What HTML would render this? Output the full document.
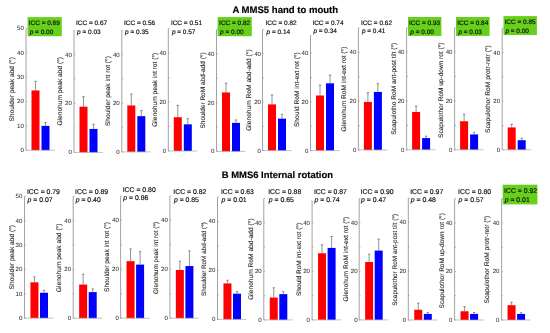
<!DOCTYPE html>
<html><head><meta charset="utf-8"><title>Figure</title>
<style>
html,body{margin:0;padding:0;background:#fff;}
body{width:550px;height:333px;overflow:hidden;}
svg{display:block;}
text{font-family:"Liberation Sans",Arial,sans-serif;fill:#333;text-rendering:geometricPrecision;}
.t{font-size:6.1px;fill:#333;stroke:#333;stroke-width:0.04px;}
.l{fill:#2a2a2a;stroke:#2a2a2a;stroke-width:0.12px;}
.i{fill:#111;stroke:#111;stroke-width:0.17px;}
.h{font-weight:bold;fill:#000;stroke:#000;stroke-width:0.15px;}
</style></head><body>
<svg width="550" height="333" viewBox="0 0 550 333">
<rect width="550" height="333" fill="#fff"/>
<text x="232.4" y="12.7" class="h" font-size="9.55">A MMS5 hand to mouth</text>
<text x="221.8" y="178.2" class="h" font-size="9.45">B MMS6 Internal rotation</text>
<rect x="27.60" y="17.10" width="34.20" height="19.10" fill="#66d01a"/>
<rect x="31.50" y="90.45" width="8" height="59.75" fill="#ff0000"/>
<path d="M35.50 90.45V81.32M34.30 81.32H36.70" stroke="#4a4a4a" stroke-width="0.6" fill="none"/>
<rect x="41.50" y="125.86" width="8" height="24.34" fill="#0000ff"/>
<path d="M45.50 125.86V122.45M44.30 122.45H46.70" stroke="#4a4a4a" stroke-width="0.6" fill="none"/>
<path d="M26.00 28.50V150.50" stroke="#999" stroke-width="0.9" fill="none"/>
<path d="M26.00 150.20H55.00" stroke="#a8a8a8" stroke-width="0.7" fill="none"/>
<path d="M26.30 150.20h1.0" stroke="#666" stroke-width="0.5"/>
<path d="M26.30 125.86h1.0" stroke="#666" stroke-width="0.5"/>
<path d="M26.30 101.52h1.0" stroke="#666" stroke-width="0.5"/>
<path d="M26.30 77.18h1.0" stroke="#666" stroke-width="0.5"/>
<path d="M26.30 52.84h1.0" stroke="#666" stroke-width="0.5"/>
<path d="M26.30 28.50h1.0" stroke="#666" stroke-width="0.5"/>
<text x="23.90" y="152.15" text-anchor="end" class="t">0</text>
<text x="23.90" y="127.81" text-anchor="end" class="t">10</text>
<text x="23.90" y="103.47" text-anchor="end" class="t">20</text>
<text x="23.90" y="79.13" text-anchor="end" class="t">30</text>
<text x="23.90" y="54.79" text-anchor="end" class="t">40</text>
<text x="23.90" y="30.45" text-anchor="end" class="t">50</text>
<text transform="translate(13.70 89.35) rotate(-90)" text-anchor="middle" class="l" font-size="6.63">Shoulder peak abd (°)</text>
<text x="28.70" y="25.20" class="i" font-size="6.48">ICC = 0.89</text>
<text x="29.70" y="33.60" class="i" font-size="6.48"><tspan font-style="italic">p</tspan> = 0.00</text>
<rect x="79.50" y="106.70" width="8" height="45.70" fill="#ff0000"/>
<path d="M83.50 106.70V96.68M82.30 96.68H84.70" stroke="#4a4a4a" stroke-width="0.6" fill="none"/>
<rect x="89.50" y="128.94" width="8" height="23.46" fill="#0000ff"/>
<path d="M93.50 128.94V124.29M92.30 124.29H94.70" stroke="#4a4a4a" stroke-width="0.6" fill="none"/>
<path d="M74.00 30.20V152.70" stroke="#999" stroke-width="0.9" fill="none"/>
<path d="M74.00 152.40H103.00" stroke="#a8a8a8" stroke-width="0.7" fill="none"/>
<path d="M74.30 152.40h1.0" stroke="#666" stroke-width="0.5"/>
<path d="M74.30 127.96h1.0" stroke="#666" stroke-width="0.5"/>
<path d="M74.30 103.52h1.0" stroke="#666" stroke-width="0.5"/>
<path d="M74.30 79.08h1.0" stroke="#666" stroke-width="0.5"/>
<path d="M74.30 54.64h1.0" stroke="#666" stroke-width="0.5"/>
<path d="M74.30 30.20h1.0" stroke="#666" stroke-width="0.5"/>
<text x="71.90" y="154.35" text-anchor="end" class="t">0</text>
<text x="71.90" y="105.47" text-anchor="end" class="t">20</text>
<text x="71.90" y="56.59" text-anchor="end" class="t">40</text>
<text transform="translate(61.70 91.30) rotate(-90)" text-anchor="middle" class="l" font-size="6.63">Glenohum peak abd (°)</text>
<text x="76.00" y="25.20" class="i" font-size="6.48">ICC = 0.67</text>
<text x="77.00" y="33.60" class="i" font-size="6.48"><tspan font-style="italic">p</tspan> = 0.03</text>
<rect x="127.30" y="105.45" width="8" height="46.45" fill="#ff0000"/>
<path d="M131.30 105.45V94.02M130.10 94.02H132.50" stroke="#4a4a4a" stroke-width="0.6" fill="none"/>
<rect x="137.30" y="116.15" width="8" height="35.75" fill="#0000ff"/>
<path d="M141.30 116.15V110.56M140.10 110.56H142.50" stroke="#4a4a4a" stroke-width="0.6" fill="none"/>
<path d="M121.80 30.30V152.20" stroke="#999" stroke-width="0.9" fill="none"/>
<path d="M121.80 151.90H150.80" stroke="#a8a8a8" stroke-width="0.7" fill="none"/>
<path d="M122.10 151.90h1.0" stroke="#666" stroke-width="0.5"/>
<path d="M122.10 127.58h1.0" stroke="#666" stroke-width="0.5"/>
<path d="M122.10 103.26h1.0" stroke="#666" stroke-width="0.5"/>
<path d="M122.10 78.94h1.0" stroke="#666" stroke-width="0.5"/>
<path d="M122.10 54.62h1.0" stroke="#666" stroke-width="0.5"/>
<path d="M122.10 30.30h1.0" stroke="#666" stroke-width="0.5"/>
<text x="119.70" y="153.85" text-anchor="end" class="t">0</text>
<text x="119.70" y="105.21" text-anchor="end" class="t">20</text>
<text x="119.70" y="56.57" text-anchor="end" class="t">40</text>
<text transform="translate(109.50 91.10) rotate(-90)" text-anchor="middle" class="l" font-size="6.63">Shoulder peak int rot (°)</text>
<text x="124.00" y="25.20" class="i" font-size="6.48">ICC = 0.56</text>
<text x="125.00" y="33.60" class="i" font-size="6.48"><tspan font-style="italic">p</tspan> = 0.35</text>
<rect x="173.80" y="117.22" width="8" height="33.78" fill="#ff0000"/>
<path d="M177.80 117.22V105.47M176.60 105.47H179.00" stroke="#4a4a4a" stroke-width="0.6" fill="none"/>
<rect x="183.80" y="124.32" width="8" height="26.68" fill="#0000ff"/>
<path d="M187.80 124.32V118.69M186.60 118.69H189.00" stroke="#4a4a4a" stroke-width="0.6" fill="none"/>
<path d="M168.30 28.60V151.30" stroke="#999" stroke-width="0.9" fill="none"/>
<path d="M168.30 151.00H197.30" stroke="#a8a8a8" stroke-width="0.7" fill="none"/>
<path d="M168.60 151.00h1.0" stroke="#666" stroke-width="0.5"/>
<path d="M168.60 126.52h1.0" stroke="#666" stroke-width="0.5"/>
<path d="M168.60 102.04h1.0" stroke="#666" stroke-width="0.5"/>
<path d="M168.60 77.56h1.0" stroke="#666" stroke-width="0.5"/>
<path d="M168.60 53.08h1.0" stroke="#666" stroke-width="0.5"/>
<path d="M168.60 28.60h1.0" stroke="#666" stroke-width="0.5"/>
<text x="166.20" y="152.95" text-anchor="end" class="t">0</text>
<text x="166.20" y="103.99" text-anchor="end" class="t">20</text>
<text x="166.20" y="55.03" text-anchor="end" class="t">40</text>
<text transform="translate(157.00 89.80) rotate(-90)" text-anchor="middle" class="l" font-size="6.63">Glenohum peak int rot (°)</text>
<text x="170.90" y="25.20" class="i" font-size="6.48">ICC = 0.51</text>
<text x="171.90" y="33.60" class="i" font-size="6.48"><tspan font-style="italic">p</tspan> = 0.57</text>
<rect x="217.60" y="17.10" width="34.20" height="19.10" fill="#66d01a"/>
<rect x="222.00" y="92.40" width="8" height="59.00" fill="#ff0000"/>
<path d="M226.00 92.40V83.14M224.80 83.14H227.20" stroke="#4a4a4a" stroke-width="0.6" fill="none"/>
<rect x="232.00" y="122.88" width="8" height="28.52" fill="#0000ff"/>
<path d="M236.00 122.88V119.95M234.80 119.95H237.20" stroke="#4a4a4a" stroke-width="0.6" fill="none"/>
<path d="M216.50 29.50V151.70" stroke="#999" stroke-width="0.9" fill="none"/>
<path d="M216.50 151.40H245.50" stroke="#a8a8a8" stroke-width="0.7" fill="none"/>
<path d="M216.80 151.40h1.0" stroke="#666" stroke-width="0.5"/>
<path d="M216.80 127.02h1.0" stroke="#666" stroke-width="0.5"/>
<path d="M216.80 102.64h1.0" stroke="#666" stroke-width="0.5"/>
<path d="M216.80 78.26h1.0" stroke="#666" stroke-width="0.5"/>
<path d="M216.80 53.88h1.0" stroke="#666" stroke-width="0.5"/>
<path d="M216.80 29.50h1.0" stroke="#666" stroke-width="0.5"/>
<text x="214.40" y="153.35" text-anchor="end" class="t">0</text>
<text x="214.40" y="104.59" text-anchor="end" class="t">20</text>
<text x="214.40" y="55.83" text-anchor="end" class="t">40</text>
<text transform="translate(205.00 90.45) rotate(-90)" text-anchor="middle" class="l" font-size="6.52">Shoulder RoM abd-add (°)</text>
<text x="219.10" y="25.20" class="i" font-size="6.48">ICC = 0.82</text>
<text x="220.10" y="33.60" class="i" font-size="6.48"><tspan font-style="italic">p</tspan> = 0.00</text>
<rect x="268.00" y="104.38" width="8" height="46.22" fill="#ff0000"/>
<path d="M272.00 104.38V94.94M270.80 94.94H273.20" stroke="#4a4a4a" stroke-width="0.6" fill="none"/>
<rect x="278.00" y="118.66" width="8" height="31.94" fill="#0000ff"/>
<path d="M282.00 118.66V114.30M280.80 114.30H283.20" stroke="#4a4a4a" stroke-width="0.6" fill="none"/>
<path d="M262.50 29.60V150.90" stroke="#999" stroke-width="0.9" fill="none"/>
<path d="M262.50 150.60H291.50" stroke="#a8a8a8" stroke-width="0.7" fill="none"/>
<path d="M262.80 150.60h1.0" stroke="#666" stroke-width="0.5"/>
<path d="M262.80 126.40h1.0" stroke="#666" stroke-width="0.5"/>
<path d="M262.80 102.20h1.0" stroke="#666" stroke-width="0.5"/>
<path d="M262.80 78.00h1.0" stroke="#666" stroke-width="0.5"/>
<path d="M262.80 53.80h1.0" stroke="#666" stroke-width="0.5"/>
<path d="M262.80 29.60h1.0" stroke="#666" stroke-width="0.5"/>
<text x="261.00" y="152.55" text-anchor="end" class="t">0</text>
<text x="261.00" y="104.15" text-anchor="end" class="t">20</text>
<text x="261.00" y="55.75" text-anchor="end" class="t">40</text>
<text transform="translate(250.90 90.10) rotate(-90)" text-anchor="middle" class="l" font-size="6.63">Glenohum RoM abd-add (°)</text>
<text x="265.50" y="25.20" class="i" font-size="6.48">ICC = 0.82</text>
<text x="266.50" y="33.60" class="i" font-size="6.48"><tspan font-style="italic">p</tspan> = 0.14</text>
<rect x="316.00" y="95.50" width="8" height="55.10" fill="#ff0000"/>
<path d="M320.00 95.50V85.02M318.80 85.02H321.20" stroke="#4a4a4a" stroke-width="0.6" fill="none"/>
<rect x="326.00" y="83.31" width="8" height="67.29" fill="#0000ff"/>
<path d="M330.00 83.31V75.02M328.80 75.02H331.20" stroke="#4a4a4a" stroke-width="0.6" fill="none"/>
<path d="M310.50 35.00V150.90" stroke="#999" stroke-width="0.9" fill="none"/>
<path d="M310.50 150.60H339.50" stroke="#a8a8a8" stroke-width="0.7" fill="none"/>
<path d="M310.80 150.60h1.0" stroke="#666" stroke-width="0.5"/>
<path d="M310.80 126.22h1.0" stroke="#666" stroke-width="0.5"/>
<path d="M310.80 101.84h1.0" stroke="#666" stroke-width="0.5"/>
<path d="M310.80 77.46h1.0" stroke="#666" stroke-width="0.5"/>
<path d="M310.80 53.08h1.0" stroke="#666" stroke-width="0.5"/>
<text x="308.40" y="152.55" text-anchor="end" class="t">0</text>
<text x="308.40" y="103.79" text-anchor="end" class="t">20</text>
<text x="308.40" y="55.03" text-anchor="end" class="t">40</text>
<text transform="translate(298.70 89.65) rotate(-90)" text-anchor="middle" class="l" font-size="6.63">Should RoM int-ext rot (°)</text>
<text x="312.40" y="24.80" class="i" font-size="6.48">ICC = 0.74</text>
<text x="313.40" y="33.20" class="i" font-size="6.48"><tspan font-style="italic">p</tspan> = 0.34</text>
<rect x="363.90" y="101.93" width="8" height="48.07" fill="#ff0000"/>
<path d="M367.90 101.93V92.66M366.70 92.66H369.10" stroke="#4a4a4a" stroke-width="0.6" fill="none"/>
<rect x="373.90" y="91.93" width="8" height="58.07" fill="#0000ff"/>
<path d="M377.90 91.93V83.63M376.70 83.63H379.10" stroke="#4a4a4a" stroke-width="0.6" fill="none"/>
<path d="M358.40 28.00V150.30" stroke="#999" stroke-width="0.9" fill="none"/>
<path d="M358.40 150.00H387.40" stroke="#a8a8a8" stroke-width="0.7" fill="none"/>
<path d="M358.70 150.00h1.0" stroke="#666" stroke-width="0.5"/>
<path d="M358.70 125.60h1.0" stroke="#666" stroke-width="0.5"/>
<path d="M358.70 101.20h1.0" stroke="#666" stroke-width="0.5"/>
<path d="M358.70 76.80h1.0" stroke="#666" stroke-width="0.5"/>
<path d="M358.70 52.40h1.0" stroke="#666" stroke-width="0.5"/>
<path d="M358.70 28.00h1.0" stroke="#666" stroke-width="0.5"/>
<text x="356.30" y="151.95" text-anchor="end" class="t">0</text>
<text x="356.30" y="103.15" text-anchor="end" class="t">20</text>
<text x="356.30" y="54.35" text-anchor="end" class="t">40</text>
<text transform="translate(346.10 89.00) rotate(-90)" text-anchor="middle" class="l" font-size="6.63">Glenohum RoM int-ext rot (°)</text>
<text x="360.90" y="24.80" class="i" font-size="6.48">ICC = 0.62</text>
<text x="361.90" y="33.20" class="i" font-size="6.48"><tspan font-style="italic">p</tspan> = 0.41</text>
<rect x="408.00" y="17.00" width="33.40" height="18.90" fill="#66d01a"/>
<rect x="412.10" y="111.95" width="8" height="37.85" fill="#ff0000"/>
<path d="M416.10 111.95V106.09M414.90 106.09H417.30" stroke="#4a4a4a" stroke-width="0.6" fill="none"/>
<rect x="422.10" y="138.08" width="8" height="11.72" fill="#0000ff"/>
<path d="M426.10 138.08V136.12M424.90 136.12H427.30" stroke="#4a4a4a" stroke-width="0.6" fill="none"/>
<path d="M406.60 27.70V150.10" stroke="#999" stroke-width="0.9" fill="none"/>
<path d="M406.60 149.80H435.60" stroke="#a8a8a8" stroke-width="0.7" fill="none"/>
<path d="M406.90 149.80h1.0" stroke="#666" stroke-width="0.5"/>
<path d="M406.90 125.38h1.0" stroke="#666" stroke-width="0.5"/>
<path d="M406.90 100.96h1.0" stroke="#666" stroke-width="0.5"/>
<path d="M406.90 76.54h1.0" stroke="#666" stroke-width="0.5"/>
<path d="M406.90 52.12h1.0" stroke="#666" stroke-width="0.5"/>
<path d="M406.90 27.70h1.0" stroke="#666" stroke-width="0.5"/>
<text x="404.50" y="151.75" text-anchor="end" class="t">0</text>
<text x="404.50" y="102.91" text-anchor="end" class="t">20</text>
<text x="404.50" y="54.07" text-anchor="end" class="t">40</text>
<text transform="translate(395.60 88.75) rotate(-90)" text-anchor="middle" class="l" font-size="6.63">Scapulotho RoM ant-post tilt (°)</text>
<text x="409.00" y="25.20" class="i" font-size="6.48">ICC = 0.93</text>
<text x="410.30" y="33.60" class="i" font-size="6.48"><tspan font-style="italic">p</tspan> = 0.00</text>
<rect x="456.00" y="17.00" width="33.60" height="18.90" fill="#66d01a"/>
<rect x="460.10" y="121.23" width="8" height="28.57" fill="#ff0000"/>
<path d="M464.10 121.23V114.15M462.90 114.15H465.30" stroke="#4a4a4a" stroke-width="0.6" fill="none"/>
<rect x="470.10" y="134.42" width="8" height="15.38" fill="#0000ff"/>
<path d="M474.10 134.42V132.22M472.90 132.22H475.30" stroke="#4a4a4a" stroke-width="0.6" fill="none"/>
<path d="M454.60 27.70V150.10" stroke="#999" stroke-width="0.9" fill="none"/>
<path d="M454.60 149.80H483.60" stroke="#a8a8a8" stroke-width="0.7" fill="none"/>
<path d="M454.90 149.80h1.0" stroke="#666" stroke-width="0.5"/>
<path d="M454.90 125.38h1.0" stroke="#666" stroke-width="0.5"/>
<path d="M454.90 100.96h1.0" stroke="#666" stroke-width="0.5"/>
<path d="M454.90 76.54h1.0" stroke="#666" stroke-width="0.5"/>
<path d="M454.90 52.12h1.0" stroke="#666" stroke-width="0.5"/>
<path d="M454.90 27.70h1.0" stroke="#666" stroke-width="0.5"/>
<text x="452.50" y="151.75" text-anchor="end" class="t">0</text>
<text x="452.50" y="102.91" text-anchor="end" class="t">20</text>
<text x="452.50" y="54.07" text-anchor="end" class="t">40</text>
<text transform="translate(442.80 90.25) rotate(-90)" text-anchor="middle" class="l" font-size="6.53">Scapulothor RoM up-down rot (°)</text>
<text x="457.20" y="25.20" class="i" font-size="6.48">ICC = 0.84</text>
<text x="458.40" y="33.60" class="i" font-size="6.48"><tspan font-style="italic">p</tspan> = 0.03</text>
<rect x="503.50" y="16.10" width="33.40" height="18.90" fill="#66d01a"/>
<rect x="507.70" y="127.44" width="8" height="22.36" fill="#ff0000"/>
<path d="M511.70 127.44V124.29M510.50 124.29H512.90" stroke="#4a4a4a" stroke-width="0.6" fill="none"/>
<rect x="517.70" y="140.20" width="8" height="9.60" fill="#0000ff"/>
<path d="M521.70 140.20V138.14M520.50 138.14H522.90" stroke="#4a4a4a" stroke-width="0.6" fill="none"/>
<path d="M502.20 28.30V150.10" stroke="#999" stroke-width="0.9" fill="none"/>
<path d="M502.20 149.80H531.20" stroke="#a8a8a8" stroke-width="0.7" fill="none"/>
<path d="M502.50 149.80h1.0" stroke="#666" stroke-width="0.5"/>
<path d="M502.50 125.50h1.0" stroke="#666" stroke-width="0.5"/>
<path d="M502.50 101.20h1.0" stroke="#666" stroke-width="0.5"/>
<path d="M502.50 76.90h1.0" stroke="#666" stroke-width="0.5"/>
<path d="M502.50 52.60h1.0" stroke="#666" stroke-width="0.5"/>
<path d="M502.50 28.30h1.0" stroke="#666" stroke-width="0.5"/>
<text x="500.10" y="151.75" text-anchor="end" class="t">0</text>
<text x="500.10" y="103.15" text-anchor="end" class="t">20</text>
<text x="500.10" y="54.55" text-anchor="end" class="t">40</text>
<text transform="translate(490.40 89.05) rotate(-90)" text-anchor="middle" class="l" font-size="6.63">Scapulothor RoM protr-retr (°)</text>
<text x="504.50" y="24.40" class="i" font-size="6.48">ICC = 0.85</text>
<text x="505.40" y="32.80" class="i" font-size="6.48"><tspan font-style="italic">p</tspan> = 0.00</text>
<rect x="30.45" y="282.29" width="8" height="35.81" fill="#ff0000"/>
<path d="M34.45 282.29V276.93M33.25 276.93H35.65" stroke="#4a4a4a" stroke-width="0.6" fill="none"/>
<rect x="40.00" y="292.77" width="8" height="25.33" fill="#0000ff"/>
<path d="M44.00 292.77V290.33M42.80 290.33H45.20" stroke="#4a4a4a" stroke-width="0.6" fill="none"/>
<path d="M24.50 196.30V318.40" stroke="#999" stroke-width="0.9" fill="none"/>
<path d="M24.50 318.10H53.50" stroke="#a8a8a8" stroke-width="0.7" fill="none"/>
<path d="M24.80 318.10h1.0" stroke="#666" stroke-width="0.5"/>
<path d="M24.80 293.74h1.0" stroke="#666" stroke-width="0.5"/>
<path d="M24.80 269.38h1.0" stroke="#666" stroke-width="0.5"/>
<path d="M24.80 245.02h1.0" stroke="#666" stroke-width="0.5"/>
<path d="M24.80 220.66h1.0" stroke="#666" stroke-width="0.5"/>
<path d="M24.80 196.30h1.0" stroke="#666" stroke-width="0.5"/>
<text x="22.40" y="320.05" text-anchor="end" class="t">0</text>
<text x="22.40" y="295.69" text-anchor="end" class="t">10</text>
<text x="22.40" y="271.33" text-anchor="end" class="t">20</text>
<text x="22.40" y="246.97" text-anchor="end" class="t">30</text>
<text x="22.40" y="222.61" text-anchor="end" class="t">40</text>
<text x="22.40" y="198.25" text-anchor="end" class="t">50</text>
<text transform="translate(14.10 257.20) rotate(-90)" text-anchor="middle" class="l" font-size="6.63">Shoulder peak abd (°)</text>
<text x="26.90" y="193.50" class="i" font-size="6.88">ICC = 0.79</text>
<text x="27.50" y="201.90" class="i" font-size="6.88"><tspan font-style="italic">p</tspan> = 0.07</text>
<rect x="79.15" y="284.56" width="8" height="33.64" fill="#ff0000"/>
<path d="M83.15 284.56V274.32M81.95 274.32H84.35" stroke="#4a4a4a" stroke-width="0.6" fill="none"/>
<rect x="88.70" y="292.11" width="8" height="26.09" fill="#0000ff"/>
<path d="M92.70 292.11V288.94M91.50 288.94H93.90" stroke="#4a4a4a" stroke-width="0.6" fill="none"/>
<path d="M73.20 196.30V318.50" stroke="#999" stroke-width="0.9" fill="none"/>
<path d="M73.20 318.20H102.20" stroke="#a8a8a8" stroke-width="0.7" fill="none"/>
<path d="M73.50 318.20h1.0" stroke="#666" stroke-width="0.5"/>
<path d="M73.50 293.82h1.0" stroke="#666" stroke-width="0.5"/>
<path d="M73.50 269.44h1.0" stroke="#666" stroke-width="0.5"/>
<path d="M73.50 245.06h1.0" stroke="#666" stroke-width="0.5"/>
<path d="M73.50 220.68h1.0" stroke="#666" stroke-width="0.5"/>
<path d="M73.50 196.30h1.0" stroke="#666" stroke-width="0.5"/>
<text x="71.10" y="320.15" text-anchor="end" class="t">0</text>
<text x="71.10" y="271.39" text-anchor="end" class="t">20</text>
<text x="71.10" y="222.63" text-anchor="end" class="t">40</text>
<text transform="translate(61.40 257.85) rotate(-90)" text-anchor="middle" class="l" font-size="6.63">Glenohum peak abd (°)</text>
<text x="75.10" y="193.50" class="i" font-size="6.88">ICC = 0.89</text>
<text x="75.70" y="201.90" class="i" font-size="6.88"><tspan font-style="italic">p</tspan> = 0.40</text>
<rect x="126.55" y="261.16" width="8" height="57.04" fill="#ff0000"/>
<path d="M130.55 261.16V248.92M129.35 248.92H131.75" stroke="#4a4a4a" stroke-width="0.6" fill="none"/>
<rect x="136.10" y="264.59" width="8" height="53.61" fill="#0000ff"/>
<path d="M140.10 264.59V251.61M138.90 251.61H141.30" stroke="#4a4a4a" stroke-width="0.6" fill="none"/>
<path d="M120.60 195.80V318.50" stroke="#999" stroke-width="0.9" fill="none"/>
<path d="M120.60 318.20H149.60" stroke="#a8a8a8" stroke-width="0.7" fill="none"/>
<path d="M120.90 318.20h1.0" stroke="#666" stroke-width="0.5"/>
<path d="M120.90 293.72h1.0" stroke="#666" stroke-width="0.5"/>
<path d="M120.90 269.24h1.0" stroke="#666" stroke-width="0.5"/>
<path d="M120.90 244.76h1.0" stroke="#666" stroke-width="0.5"/>
<path d="M120.90 220.28h1.0" stroke="#666" stroke-width="0.5"/>
<path d="M120.90 195.80h1.0" stroke="#666" stroke-width="0.5"/>
<text x="118.90" y="320.15" text-anchor="end" class="t">0</text>
<text x="118.90" y="271.19" text-anchor="end" class="t">20</text>
<text x="118.90" y="222.23" text-anchor="end" class="t">40</text>
<text transform="translate(108.90 257.00) rotate(-90)" text-anchor="middle" class="l" font-size="6.63">Shoulder peak int rot (°)</text>
<text x="122.70" y="191.50" class="i" font-size="6.88">ICC = 0.80</text>
<text x="123.30" y="199.90" class="i" font-size="6.88"><tspan font-style="italic">p</tspan> = 0.86</text>
<rect x="175.85" y="269.97" width="8" height="48.23" fill="#ff0000"/>
<path d="M179.85 269.97V261.16M178.65 261.16H181.05" stroke="#4a4a4a" stroke-width="0.6" fill="none"/>
<rect x="185.40" y="266.06" width="8" height="52.14" fill="#0000ff"/>
<path d="M189.40 266.06V250.88M188.20 250.88H190.60" stroke="#4a4a4a" stroke-width="0.6" fill="none"/>
<path d="M169.90 195.80V318.50" stroke="#999" stroke-width="0.9" fill="none"/>
<path d="M169.90 318.20H198.90" stroke="#a8a8a8" stroke-width="0.7" fill="none"/>
<path d="M170.20 318.20h1.0" stroke="#666" stroke-width="0.5"/>
<path d="M170.20 293.72h1.0" stroke="#666" stroke-width="0.5"/>
<path d="M170.20 269.24h1.0" stroke="#666" stroke-width="0.5"/>
<path d="M170.20 244.76h1.0" stroke="#666" stroke-width="0.5"/>
<path d="M170.20 220.28h1.0" stroke="#666" stroke-width="0.5"/>
<path d="M170.20 195.80h1.0" stroke="#666" stroke-width="0.5"/>
<text x="167.80" y="320.15" text-anchor="end" class="t">0</text>
<text x="167.80" y="271.19" text-anchor="end" class="t">20</text>
<text x="167.80" y="222.23" text-anchor="end" class="t">40</text>
<text transform="translate(157.60 257.90) rotate(-90)" text-anchor="middle" class="l" font-size="6.46">Glenohum peak int rot (°)</text>
<text x="173.30" y="193.50" class="i" font-size="6.88">ICC = 0.82</text>
<text x="173.90" y="201.90" class="i" font-size="6.88"><tspan font-style="italic">p</tspan> = 0.85</text>
<rect x="223.45" y="283.41" width="8" height="35.99" fill="#ff0000"/>
<path d="M227.45 283.41V280.23M226.25 280.23H228.65" stroke="#4a4a4a" stroke-width="0.6" fill="none"/>
<rect x="233.00" y="293.70" width="8" height="25.70" fill="#0000ff"/>
<path d="M237.00 293.70V291.74M235.80 291.74H238.20" stroke="#4a4a4a" stroke-width="0.6" fill="none"/>
<path d="M217.50 197.00V319.70" stroke="#999" stroke-width="0.9" fill="none"/>
<path d="M217.50 319.40H246.50" stroke="#a8a8a8" stroke-width="0.7" fill="none"/>
<path d="M217.80 319.40h1.0" stroke="#666" stroke-width="0.5"/>
<path d="M217.80 294.92h1.0" stroke="#666" stroke-width="0.5"/>
<path d="M217.80 270.44h1.0" stroke="#666" stroke-width="0.5"/>
<path d="M217.80 245.96h1.0" stroke="#666" stroke-width="0.5"/>
<path d="M217.80 221.48h1.0" stroke="#666" stroke-width="0.5"/>
<path d="M217.80 197.00h1.0" stroke="#666" stroke-width="0.5"/>
<text x="215.40" y="321.35" text-anchor="end" class="t">0</text>
<text x="215.40" y="272.39" text-anchor="end" class="t">20</text>
<text x="215.40" y="223.43" text-anchor="end" class="t">40</text>
<text transform="translate(206.40 259.10) rotate(-90)" text-anchor="middle" class="l" font-size="6.33">Shoulder RoM abd-add (°)</text>
<text x="220.90" y="193.50" class="i" font-size="6.88">ICC = 0.63</text>
<text x="221.50" y="201.90" class="i" font-size="6.88"><tspan font-style="italic">p</tspan> = 0.01</text>
<rect x="269.75" y="297.53" width="8" height="22.37" fill="#ff0000"/>
<path d="M273.75 297.53V287.80M272.55 287.80H274.95" stroke="#4a4a4a" stroke-width="0.6" fill="none"/>
<rect x="279.30" y="294.12" width="8" height="25.78" fill="#0000ff"/>
<path d="M283.30 294.12V291.69M282.10 291.69H284.50" stroke="#4a4a4a" stroke-width="0.6" fill="none"/>
<path d="M263.80 198.30V320.20" stroke="#999" stroke-width="0.9" fill="none"/>
<path d="M263.80 319.90H292.80" stroke="#a8a8a8" stroke-width="0.7" fill="none"/>
<path d="M264.10 319.90h1.0" stroke="#666" stroke-width="0.5"/>
<path d="M264.10 295.58h1.0" stroke="#666" stroke-width="0.5"/>
<path d="M264.10 271.26h1.0" stroke="#666" stroke-width="0.5"/>
<path d="M264.10 246.94h1.0" stroke="#666" stroke-width="0.5"/>
<path d="M264.10 222.62h1.0" stroke="#666" stroke-width="0.5"/>
<path d="M264.10 198.30h1.0" stroke="#666" stroke-width="0.5"/>
<text x="261.70" y="321.85" text-anchor="end" class="t">0</text>
<text x="261.70" y="273.21" text-anchor="end" class="t">20</text>
<text x="261.70" y="224.57" text-anchor="end" class="t">40</text>
<text transform="translate(253.10 259.10) rotate(-90)" text-anchor="middle" class="l" font-size="6.63">Glenohum RoM abd-add (°)</text>
<text x="268.20" y="193.50" class="i" font-size="6.88">ICC = 0.88</text>
<text x="268.80" y="201.90" class="i" font-size="6.88"><tspan font-style="italic">p</tspan> = 0.65</text>
<rect x="318.05" y="253.26" width="8" height="66.64" fill="#ff0000"/>
<path d="M322.05 253.26V244.75M320.85 244.75H323.25" stroke="#4a4a4a" stroke-width="0.6" fill="none"/>
<rect x="327.60" y="247.91" width="8" height="71.99" fill="#0000ff"/>
<path d="M331.60 247.91V236.48M330.40 236.48H332.80" stroke="#4a4a4a" stroke-width="0.6" fill="none"/>
<path d="M312.10 200.50V320.20" stroke="#999" stroke-width="0.9" fill="none"/>
<path d="M312.10 319.90H341.10" stroke="#a8a8a8" stroke-width="0.7" fill="none"/>
<path d="M312.40 319.90h1.0" stroke="#666" stroke-width="0.5"/>
<path d="M312.40 295.58h1.0" stroke="#666" stroke-width="0.5"/>
<path d="M312.40 271.26h1.0" stroke="#666" stroke-width="0.5"/>
<path d="M312.40 246.94h1.0" stroke="#666" stroke-width="0.5"/>
<path d="M312.40 222.62h1.0" stroke="#666" stroke-width="0.5"/>
<text x="310.00" y="321.85" text-anchor="end" class="t">0</text>
<text x="310.00" y="273.21" text-anchor="end" class="t">20</text>
<text x="310.00" y="224.57" text-anchor="end" class="t">40</text>
<text transform="translate(300.90 259.45) rotate(-90)" text-anchor="middle" class="l" font-size="6.47">Should RoM int-ext rot (°)</text>
<text x="313.90" y="193.50" class="i" font-size="6.88">ICC = 0.87</text>
<text x="314.50" y="201.90" class="i" font-size="6.88"><tspan font-style="italic">p</tspan> = 0.74</text>
<rect x="365.15" y="262.02" width="8" height="57.88" fill="#ff0000"/>
<path d="M369.15 262.02V254.24M367.95 254.24H370.35" stroke="#4a4a4a" stroke-width="0.6" fill="none"/>
<rect x="374.70" y="250.59" width="8" height="69.31" fill="#0000ff"/>
<path d="M378.70 250.59V239.16M377.50 239.16H379.90" stroke="#4a4a4a" stroke-width="0.6" fill="none"/>
<path d="M359.20 198.30V320.20" stroke="#999" stroke-width="0.9" fill="none"/>
<path d="M359.20 319.90H388.20" stroke="#a8a8a8" stroke-width="0.7" fill="none"/>
<path d="M359.50 319.90h1.0" stroke="#666" stroke-width="0.5"/>
<path d="M359.50 295.58h1.0" stroke="#666" stroke-width="0.5"/>
<path d="M359.50 271.26h1.0" stroke="#666" stroke-width="0.5"/>
<path d="M359.50 246.94h1.0" stroke="#666" stroke-width="0.5"/>
<path d="M359.50 222.62h1.0" stroke="#666" stroke-width="0.5"/>
<path d="M359.50 198.30h1.0" stroke="#666" stroke-width="0.5"/>
<text x="357.60" y="321.85" text-anchor="end" class="t">0</text>
<text x="357.60" y="273.21" text-anchor="end" class="t">20</text>
<text x="357.60" y="224.57" text-anchor="end" class="t">40</text>
<text transform="translate(347.90 259.10) rotate(-90)" text-anchor="middle" class="l" font-size="6.63">Glenohum RoM int-ext rot (°)</text>
<text x="360.50" y="193.50" class="i" font-size="6.88">ICC = 0.90</text>
<text x="361.10" y="201.90" class="i" font-size="6.88"><tspan font-style="italic">p</tspan> = 0.47</text>
<rect x="414.25" y="309.75" width="8" height="10.25" fill="#ff0000"/>
<path d="M418.25 309.75V303.16M417.05 303.16H419.45" stroke="#4a4a4a" stroke-width="0.6" fill="none"/>
<rect x="423.80" y="313.90" width="8" height="6.10" fill="#0000ff"/>
<path d="M427.80 313.90V312.44M426.60 312.44H429.00" stroke="#4a4a4a" stroke-width="0.6" fill="none"/>
<path d="M408.30 198.00V320.30" stroke="#999" stroke-width="0.9" fill="none"/>
<path d="M408.30 320.00H437.30" stroke="#a8a8a8" stroke-width="0.7" fill="none"/>
<path d="M408.60 320.00h1.0" stroke="#666" stroke-width="0.5"/>
<path d="M408.60 295.60h1.0" stroke="#666" stroke-width="0.5"/>
<path d="M408.60 271.20h1.0" stroke="#666" stroke-width="0.5"/>
<path d="M408.60 246.80h1.0" stroke="#666" stroke-width="0.5"/>
<path d="M408.60 222.40h1.0" stroke="#666" stroke-width="0.5"/>
<path d="M408.60 198.00h1.0" stroke="#666" stroke-width="0.5"/>
<text x="406.20" y="321.95" text-anchor="end" class="t">0</text>
<text x="406.20" y="273.15" text-anchor="end" class="t">20</text>
<text x="406.20" y="224.35" text-anchor="end" class="t">40</text>
<text transform="translate(396.70 259.75) rotate(-90)" text-anchor="middle" class="l" font-size="6.46">Scapulothor RoM ant-post tilt (°)</text>
<text x="410.20" y="193.50" class="i" font-size="6.88">ICC = 0.97</text>
<text x="410.80" y="201.90" class="i" font-size="6.88"><tspan font-style="italic">p</tspan> = 0.48</text>
<rect x="460.55" y="311.26" width="8" height="8.74" fill="#ff0000"/>
<path d="M464.55 311.26V306.65M463.35 306.65H465.75" stroke="#4a4a4a" stroke-width="0.6" fill="none"/>
<rect x="470.10" y="313.93" width="8" height="6.07" fill="#0000ff"/>
<path d="M474.10 313.93V312.47M472.90 312.47H475.30" stroke="#4a4a4a" stroke-width="0.6" fill="none"/>
<path d="M454.60 198.60V320.30" stroke="#999" stroke-width="0.9" fill="none"/>
<path d="M454.60 320.00H483.60" stroke="#a8a8a8" stroke-width="0.7" fill="none"/>
<path d="M454.90 320.00h1.0" stroke="#666" stroke-width="0.5"/>
<path d="M454.90 295.72h1.0" stroke="#666" stroke-width="0.5"/>
<path d="M454.90 271.44h1.0" stroke="#666" stroke-width="0.5"/>
<path d="M454.90 247.16h1.0" stroke="#666" stroke-width="0.5"/>
<path d="M454.90 222.88h1.0" stroke="#666" stroke-width="0.5"/>
<path d="M454.90 198.60h1.0" stroke="#666" stroke-width="0.5"/>
<text x="452.50" y="321.95" text-anchor="end" class="t">0</text>
<text x="452.50" y="273.39" text-anchor="end" class="t">20</text>
<text x="452.50" y="224.83" text-anchor="end" class="t">40</text>
<text transform="translate(443.60 260.80) rotate(-90)" text-anchor="middle" class="l" font-size="6.53">Scapulothor RoM up-down rot (°)</text>
<text x="458.00" y="193.50" class="i" font-size="6.88">ICC = 0.80</text>
<text x="458.60" y="201.90" class="i" font-size="6.88"><tspan font-style="italic">p</tspan> = 0.57</text>
<rect x="502.70" y="184.70" width="34.70" height="19.70" fill="#66d01a"/>
<rect x="507.55" y="305.19" width="8" height="14.81" fill="#ff0000"/>
<path d="M511.55 305.19V302.28M510.35 302.28H512.75" stroke="#4a4a4a" stroke-width="0.6" fill="none"/>
<rect x="517.10" y="313.93" width="8" height="6.07" fill="#0000ff"/>
<path d="M521.10 313.93V312.72M519.90 312.72H522.30" stroke="#4a4a4a" stroke-width="0.6" fill="none"/>
<path d="M501.60 198.60V320.30" stroke="#999" stroke-width="0.9" fill="none"/>
<path d="M501.60 320.00H530.60" stroke="#a8a8a8" stroke-width="0.7" fill="none"/>
<path d="M501.90 320.00h1.0" stroke="#666" stroke-width="0.5"/>
<path d="M501.90 295.72h1.0" stroke="#666" stroke-width="0.5"/>
<path d="M501.90 271.44h1.0" stroke="#666" stroke-width="0.5"/>
<path d="M501.90 247.16h1.0" stroke="#666" stroke-width="0.5"/>
<path d="M501.90 222.88h1.0" stroke="#666" stroke-width="0.5"/>
<path d="M501.90 198.60h1.0" stroke="#666" stroke-width="0.5"/>
<text x="499.50" y="321.95" text-anchor="end" class="t">0</text>
<text x="499.50" y="273.39" text-anchor="end" class="t">20</text>
<text x="499.50" y="224.83" text-anchor="end" class="t">40</text>
<text transform="translate(489.30 259.60) rotate(-90)" text-anchor="middle" class="l" font-size="6.63">Scapulothor RoM protr-retr (°)</text>
<text x="504.10" y="193.10" class="i" font-size="6.88">ICC = 0.92</text>
<text x="504.70" y="201.50" class="i" font-size="6.88"><tspan font-style="italic">p</tspan> = 0.01</text>
</svg>
</body></html>
